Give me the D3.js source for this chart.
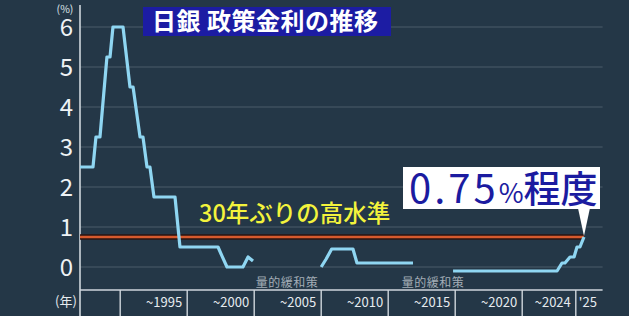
<!DOCTYPE html>
<html><head><meta charset="utf-8">
<script src="https://cdn.jsdelivr.net/npm/d3@7"></script>
<style>
html,body{margin:0;padding:0;background:#243747;}
svg{display:block;font-family:"Noto Sans CJK JP","Noto Sans",sans-serif;}
</style></head>
<body><svg id="c" width="629" height="316"></svg>
<script>
// ---- data ----
const title = "日銀 政策金利の推移";
const years = [1988.0,1988.97,1989.19,1989.49,1990.01,1990.24,1990.46,1991.21,1991.73,1991.96,1992.48,1992.70,1993.0,1993.22,1993.52,1995.09,1995.46,1998.30,1998.60,1998.97,2000.16,2000.54,2000.91,
  null,
  2006.0,2006.37,2006.78,2008.37,2008.67,2012.85,
  null,
  2015.84,2023.60,2023.97,2024.19,2024.57,2024.87,2025.09,2025.31,2025.61];
const rates = [2.5,2.5,3.25,3.25,5.25,5.25,6.0,6.0,4.5,4.5,3.25,3.25,2.5,2.5,1.75,1.75,0.5,0.5,0.27,0,0,0.25,0.15,
  null,
  0,0.2,0.45,0.45,0.1,0.1,
  null,
  -0.1,-0.1,0.1,0.1,0.25,0.25,0.5,0.5,0.75];
const yTicks = [0,1,2,3,4,5,6];
const periodEnds = [1991,1996,2001,2006,2011,2016,2021,2025];
const periodLabels = ["~1995","~2000","~2005","~2010","~2015","~2020","~2024","'25"];
const labelEnds = [1996,2001,2006,2011,2016,2021,2025];
const qeLabel = "量的緩和策";
const qeCenters = [2003.45,2014.35];
const highLevel = 0.75;
const highText = "30年ぶりの高水準";
const calloutValue = "0.75", calloutPct = "%", calloutWord = "程度";

// ---- scales ----
const svg = d3.select("#c");
const x = d3.scaleLinear().domain([1988, 2027]).range([80, 602.6]);
const y = d3.scaleLinear().domain([0, 6]).range([267, 27]);

// grid
svg.append("g").selectAll("line").data(yTicks).join("line")
  .attr("x1", x(1988)).attr("x2", x(2027))
  .attr("y1", d => y(d)).attr("y2", d => y(d))
  .attr("stroke", "#4b5c6b").attr("stroke-width", 1.2);

// y labels
svg.append("g").selectAll("text").data(yTicks).join("text")
  .attr("x", 73).attr("y", d => y(d)).attr("dy", "0.36em")
  .attr("text-anchor", "end").attr("fill", "#eef2f5")
  .attr("font-size", 24).text(d => d);
svg.append("text").attr("x", 65).attr("y", 13).attr("text-anchor", "middle")
  .attr("fill", "#dfe5ea").attr("font-size", 10.5).text("(%)");

// axes lines
const axisColor = "#cfd6dc";
svg.append("line").attr("x1", x(1988)).attr("x2", x(1988)).attr("y1", 5).attr("y2", 316)
  .attr("stroke", axisColor).attr("stroke-width", 1.6);
svg.append("line").attr("x1", x(1988)).attr("x2", x(2027)).attr("y1", 290).attr("y2", 290)
  .attr("stroke", axisColor).attr("stroke-width", 1.6);
svg.append("g").selectAll("line").data(periodEnds).join("line")
  .attr("x1", d => x(d)).attr("x2", d => x(d)).attr("y1", 290).attr("y2", 316)
  .attr("stroke", axisColor).attr("stroke-width", 1.4);

// x labels
svg.append("g").selectAll("text").data(periodLabels).join("text")
  .attr("x", (d, i) => i < labelEnds.length ? x(labelEnds[i]) - 5 : x(2025) + 3)
  .attr("y", 307).attr("text-anchor", (d, i) => i < labelEnds.length ? "end" : "start")
  .attr("fill", "#e6ebef").attr("font-size", 13).text(d => d);
svg.append("text").attr("x", 66).attr("y", 306).attr("text-anchor", "middle")
  .attr("fill", "#e6ebef").attr("font-size", 13).text("(年)");

// QE labels
svg.append("g").selectAll("text").data(qeCenters).join("text")
  .attr("x", d => x(d)).attr("y", 287).attr("text-anchor", "middle")
  .attr("fill", "#a3adb6").attr("font-size", 12).attr("letter-spacing", 0.5).text(qeLabel);

// red reference line
const endYear = years[years.length - 1];
svg.append("line").attr("x1", x(1988)).attr("x2", x(endYear))
  .attr("y1", y(highLevel)).attr("y2", y(highLevel))
  .attr("stroke", "#2a1410").attr("stroke-width", 5.5);
svg.append("line").attr("x1", x(1988)).attr("x2", x(endYear))
  .attr("y1", y(highLevel)).attr("y2", y(highLevel))
  .attr("stroke", "#d65a2e").attr("stroke-width", 2.5);

// rate line
const pts = years.map((d, i) => [d, rates[i]]);
const line = d3.line().defined(d => d[0] !== null && d[1] !== null)
  .x(d => x(d[0])).y(d => y(d[1]));
svg.append("path").attr("d", line(pts)).attr("fill", "none")
  .attr("stroke", "#8fd6f2").attr("stroke-width", 3.2).attr("stroke-linejoin", "round");

// yellow annotation
svg.append("text").attr("x", 199).attr("y", 222).attr("fill", "#f3f33c")
  .attr("font-size", 23.5).attr("font-weight", 500).text(highText);

// title box
svg.append("rect").attr("x", 143).attr("y", 7).attr("width", 248).attr("height", 29).attr("fill", "#1c1ca3");
svg.append("text").attr("x", 152).attr("y", 30).attr("fill", "#ffffff")
  .attr("font-size", 24).attr("font-weight", 700).attr("letter-spacing", 0.5).text(title);

// callout
const tipX = x(endYear), tipY = y(highLevel);
svg.append("rect").attr("x", 403).attr("y", 167).attr("width", 197).attr("height", 42).attr("fill", "#ffffff");
svg.append("path").attr("d", `M${tipX-6},208 L${tipX+6},208 L${tipX},${tipY-1} Z`).attr("fill", "#ffffff");
const ct = svg.append("text").attr("x", 409).attr("y", 203).attr("fill", "#1b1ba0");
ct.append("tspan").attr("font-size", 40).attr("letter-spacing", 3).text(calloutValue);
ct.append("tspan").attr("font-size", 27).text(calloutPct);
ct.append("tspan").attr("font-size", 37).attr("font-weight", 500).text(calloutWord);
</script></body></html>
